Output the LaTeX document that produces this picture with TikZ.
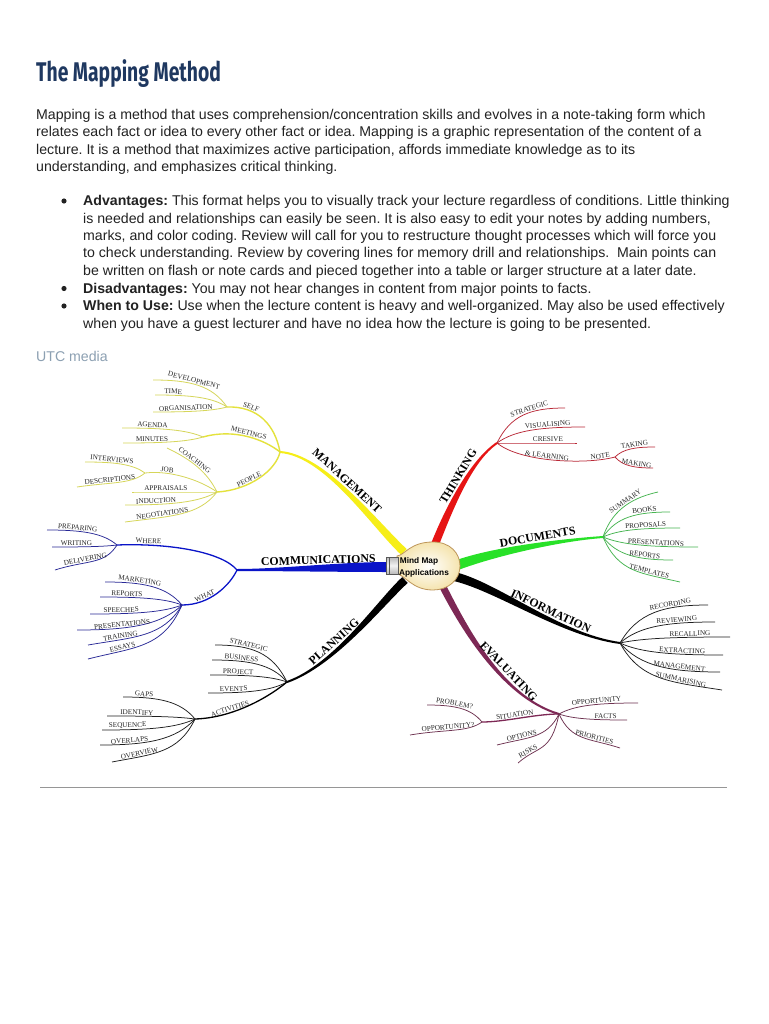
\documentclass[tikz,border=0pt]{standalone}
\usepackage{fontspec}
\setmainfont{Liberation Sans}
\newfontfamily\titlefont[FakeStretch=0.715]{Fira Sans}
\newfontfamily\mapfont{Liberation Serif}
\newfontfamily\bulbfont{Liberation Sans}
\usetikzlibrary{calc}
\frenchspacing
\definecolor{titleblue}{RGB}{31,56,96}
\definecolor{bodytext}{RGB}{34,34,34}
\definecolor{utcgray}{RGB}{140,160,178}
\definecolor{rulegray}{RGB}{150,150,150}
\definecolor{yellowmain}{RGB}{246,238,24}
\definecolor{yellowsub}{RGB}{228,226,60}
\definecolor{yellowleaf}{RGB}{214,214,90}
\definecolor{bluemain}{RGB}{10,20,200}
\definecolor{blueleaf}{RGB}{40,40,150}
\definecolor{redmain}{RGB}{230,20,20}
\definecolor{redleaf}{RGB}{185,40,55}
\definecolor{greenmain}{RGB}{40,225,40}
\definecolor{greenleaf}{RGB}{70,180,80}
\definecolor{maroonmain}{RGB}{125,40,85}
\definecolor{maroonleaf}{RGB}{110,50,80}
\definecolor{blackleaf}{RGB}{30,30,30}
\definecolor{bulbfill}{RGB}{245,228,175}
\definecolor{bulbedge}{RGB}{190,150,90}
% leaf: style, hub, dx, dy, pos, end slope, text
\newcommand\leafline[7]{%
  \pgfmathsetmacro\lfax{0.2*(#3)}%
  \pgfmathsetmacro\lfay{0.8*(#4)}%
  \pgfmathsetmacro\lfbx{-0.5*(#3)}%
  \draw[#1] (#2) .. controls +(\lfax,\lfay) and +(\lfbx,#6) .. ++(#3,#4) node[lab,pos=#5]{#7};}
% main branch: colour, start, c1, c2, end, half width start, half width end, pos, label
\newcommand\mainbranch[9]{%
  \fill[#1] ($(#2)!#6!90:(#3)$) .. controls ($(#3)!#6!-90:(#2)$) and ($(#4)!#7!90:(#5)$) .. ($(#5)!#7!-90:(#4)$)
     -- ($(#5)!#7!90:(#4)$) .. controls ($(#4)!#7!-90:(#5)$) and ($(#3)!#6!90:(#2)$) .. ($(#2)!#6!-90:(#3)$) -- cycle;
  \path (#2) .. controls (#3) and (#4) .. (#5) node[mainlab,pos=#8]{#9};}
\begin{document}
\begin{tikzpicture}[x=1pt,y=-1pt,
  body/.style={anchor=base west, inner sep=0, font=\fontsize{14.15}{17}\selectfont, text=bodytext},
  lab/.style={font=\mapfont\fontsize{7.2}{8}\selectfont, sloped, above, inner sep=0.8pt, text=black!85},
  mainlab/.style={font=\mapfont\bfseries\fontsize{11.8}{13}\selectfont, sloped, above=4pt, inner sep=0pt, text=black},
  lfy/.style={draw=yellowleaf, line width=0.8pt},
  lfb/.style={draw=blueleaf, line width=0.75pt},
  lfk/.style={draw=blackleaf, line width=0.75pt},
  lfr/.style={draw=redleaf, line width=0.75pt},
  lfg/.style={draw=greenleaf, line width=0.75pt},
  lfm/.style={draw=maroonleaf, line width=0.75pt},
  sby/.style={draw=yellowsub, line width=1.4pt},
  sbb/.style={draw=bluemain, line width=1.3pt},
  sbk/.style={draw=black, line width=1.3pt},
  sbm/.style={draw=maroonmain, line width=1.3pt},
  bullet/.style={circle, fill=bodytext, inner sep=0, minimum size=5.2pt}]
\useasboundingbox (0,0) rectangle (768,1024);
\fill[white] (0,0) rectangle (768,1024);

% ---------- text ----------
\node[anchor=base west, inner sep=0, font=\titlefont\bfseries\fontsize{27}{30}\selectfont, text=titleblue] (title) at (36,82) {The Mapping Method};

\node[body] (p1) at (36,119.5) {Mapping is a method that uses comprehension/concentration skills and evolves in a note-taking form which};
\node[body] (p2) at (36,137) {relates each fact or idea to every other fact or idea. Mapping is a graphic representation of the content of a};
\node[body] (p3) at (36,154.5) {lecture. It is a method that maximizes active participation, affords immediate knowledge as to its};
\node[body] (p4) at (36,172) {understanding, and emphasizes critical thinking.};

\node[bullet] (b1) at (64,201) {};
\node[bullet] (b2) at (64,288.5) {};
\node[bullet] (b3) at (64,306) {};
\node[body] (a1) at (83,205.5) {\textbf{Advantages:} This format helps you to visually track your lecture regardless of conditions. Little thinking};
\node[body] (a2) at (83,223) {is needed and relationships can easily be seen. It is also easy to edit your notes by adding numbers,};
\node[body] (a3) at (83,240.5) {marks, and color coding. Review will call for you to restructure thought processes which will force you};
\node[body] (a4) at (83,258) {to check understanding. Review by covering lines for memory drill and relationships.~ Main points can};
\node[body] (a5) at (83,275.5) {be written on flash or note cards and pieced together into a table or larger structure at a later date.};
\node[body] (d1) at (83,293) {\textbf{Disadvantages:} You may not hear changes in content from major points to facts.};
\node[body] (w1) at (83,310.5) {\textbf{When to Use:} Use when the lecture content is heavy and well-organized. May also be used effectively};
\node[body] (w2) at (83,328) {when you have a guest lecturer and have no idea how the lecture is going to be presented.};

\node[body, text=utcgray] (utc) at (36,361.5) {UTC media};

\coordinate (rl) at (40,787);
\coordinate (rr) at (727,787);
\draw[rulegray, line width=1pt] (rl) -- (rr);

% ---------- coordinates ----------
\coordinate (mA) at (404,552);
\coordinate (hMg) at (280,452);
\coordinate (hSelf) at (227,407);
\coordinate (hMeet) at (203,437);
\coordinate (hPeople) at (217,492);
\coordinate (hJob) at (145,473);
\coordinate (cA) at (388,567);
\coordinate (hComm) at (237,570);
\coordinate (hWhere) at (117,545);
\coordinate (hWhat) at (182,605);
\coordinate (pA) at (405,580);
\coordinate (hPlan) at (287,682);
\coordinate (hAct) at (195,719);
\coordinate (tA) at (432,552);
\coordinate (hThink) at (497,443);
\coordinate (hNote) at (615,457);
\coordinate (dA) at (452,567);
\coordinate (hDoc) at (603,537);
\coordinate (iA) at (452,576);
\coordinate (hInfo) at (620,643);
\coordinate (eA) at (442,585);
\coordinate (hEval) at (559,714);
\coordinate (hSit) at (482,722);

% ---------- MANAGEMENT ----------
\mainbranch{yellowmain}{mA}{375,525}{325,455}{hMg}{4pt}{1pt}{0.55}{MANAGEMENT}
\draw[sby] (hMg) .. controls (275,425) and (258,406) .. (hSelf) node[lab,pos=0.72]{SELF};
\draw[sby] (hMg) .. controls (265,440) and (235,428) .. (hMeet) node[lab,pos=0.5]{MEETINGS};
\draw[sby] (hMg) .. controls (276,470) and (250,490) .. (hPeople) node[lab,pos=0.62]{PEOPLE};
\leafline{lfy}{hSelf}{-74}{-27}{0.57}{0}{DEVELOPMENT}
\leafline{lfy}{hSelf}{-72}{-12}{0.82}{0}{TIME}
\leafline{lfy}{hSelf}{-74}{5}{0.66}{0}{ORGANISATION}
\leafline{lfy}{hMeet}{-81}{-9}{0.72}{0}{AGENDA}
\leafline{lfy}{hMeet}{-80}{6}{0.73}{0}{MINUTES}
\draw[lfy] (hPeople) .. controls +(-10,-20) and +(25,12) .. ++(-50,-44) node[lab,pos=0.6]{COACHING};
\draw[lfy] (hPeople) .. controls (200,480) and (170,470) .. (hJob) node[lab,pos=0.72]{JOB};
\leafline{lfy}{hJob}{-60}{-11}{0.66}{0}{INTERVIEWS}
\leafline{lfy}{hJob}{-68}{14}{0.62}{-5}{DESCRIPTIONS}
\leafline{lfy}{hPeople}{-85}{0}{0.7}{0}{APPRAISALS}
\leafline{lfy}{hPeople}{-92}{13}{0.75}{0}{INDUCTION}
\leafline{lfy}{hPeople}{-92}{30}{0.69}{-6}{NEGOTIATIONS}

% ---------- COMMUNICATIONS ----------
\mainbranch{bluemain}{cA}{340,567}{280,570}{hComm}{5pt}{1pt}{0.45}{COMMUNICATIONS}
\draw[sbb] (hComm) .. controls (222,552) and (170,543) .. (hWhere) node[lab,pos=0.8]{WHERE};
\draw[sbb] (hComm) .. controls (230,585) and (210,605) .. (hWhat) node[lab,pos=0.68]{WHAT};
\leafline{lfb}{hWhere}{-70}{-15}{0.67}{0}{PREPARING}
\leafline{lfb}{hWhere}{-65}{2}{0.72}{0}{WRITING}
\leafline{lfb}{hWhere}{-62}{25}{0.61}{-10}{DELIVERING}
\leafline{lfb}{hWhat}{-77}{-23}{0.66}{0}{MARKETING}
\leafline{lfb}{hWhat}{-82}{-8}{0.76}{0}{REPORTS}
\leafline{lfb}{hWhat}{-92}{9}{0.75}{0}{SPEECHES}
\leafline{lfb}{hWhat}{-105}{25}{0.67}{0}{PRESENTATIONS}
\leafline{lfb}{hWhat}{-94}{40}{0.74}{-8}{TRAINING}
\leafline{lfb}{hWhat}{-94}{54}{0.72}{-12}{ESSAYS}

% ---------- PLANNING ----------
\mainbranch{black}{pA}{380,603}{335,665}{hPlan}{4pt}{1pt}{0.62}{PLANNING}
\leafline{lfk}{hPlan}{-72}{-37}{0.65}{0}{STRATEGIC}
\leafline{lfk}{hPlan}{-75}{-22}{0.71}{0}{BUSINESS}
\leafline{lfk}{hPlan}{-77}{-7}{0.73}{0}{PROJECT}
\leafline{lfk}{hPlan}{-79}{11}{0.76}{0}{EVENTS}
\draw[sbk] (hPlan) .. controls (265,700) and (230,718) .. (hAct) node[lab,pos=0.65]{ACTIVITIES};
\leafline{lfk}{hAct}{-72}{-22}{0.79}{0}{GAPS}
\leafline{lfk}{hAct}{-88}{-3}{0.75}{0}{IDENTIFY}
\leafline{lfk}{hAct}{-93}{11}{0.8}{0}{SEQUENCE}
\leafline{lfk}{hAct}{-95}{26}{0.77}{0}{OVERLAPS}
\leafline{lfk}{hAct}{-83}{43}{0.75}{-8}{OVERVIEW}

% ---------- THINKING ----------
\mainbranch{redmain}{tA}{450,505}{472,460}{hThink}{4pt}{1pt}{0.55}{THINKING}
\leafline{lfr}{hThink}{68}{-35}{0.6}{0}{STRATEGIC}
\leafline{lfr}{hThink}{88}{-16}{0.68}{0}{VISUALISING}
\leafline{lfr}{hThink}{80}{0}{0.73}{0}{CRESIVE}
\draw[lfr] (hThink) .. controls (520,462) and (585,465) .. (hNote) node[lab,pos=0.45]{\& LEARNING} node[lab,pos=0.86]{NOTE};
\leafline{lfr}{hNote}{40}{-10}{0.61}{0}{TAKING}
\leafline{lfr}{hNote}{38}{11}{0.66}{0}{MAKING}

% ---------- DOCUMENTS ----------
\mainbranch{greenmain}{dA}{490,552}{560,540}{hDoc}{5pt}{1pt}{0.58}{DOCUMENTS}
\draw[lfg] (hDoc) .. controls +(10,-30) and +(-22,5) .. ++(55,-45) node[lab,pos=0.52]{SUMMARY};
\leafline{lfg}{hDoc}{67}{-25}{0.72}{0}{BOOKS}
\leafline{lfg}{hDoc}{77}{-9}{0.66}{0}{PROPOSALS}
\leafline{lfg}{hDoc}{95}{10}{0.66}{0}{PRESENTATIONS}
\leafline{lfg}{hDoc}{70}{23}{0.69}{0}{REPORTS}
\leafline{lfg}{hDoc}{77}{45}{0.69}{-9}{TEMPLATES}

% ---------- INFORMATION ----------
\mainbranch{black}{iA}{495,585}{560,635}{hInfo}{4.5pt}{1pt}{0.6}{INFORMATION}
\leafline{lfk}{hInfo}{88}{-38}{0.68}{0}{RECORDING}
\leafline{lfk}{hInfo}{95}{-21}{0.7}{0}{REVIEWING}
\leafline{lfk}{hInfo}{110}{-6}{0.73}{0}{RECALLING}
\leafline{lfk}{hInfo}{103}{12}{0.7}{0}{EXTRACTING}
\leafline{lfk}{hInfo}{100}{29}{0.69}{0}{MANAGEMENT}
\leafline{lfk}{hInfo}{102}{47}{0.69}{-8}{SUMMARISING}

% ---------- EVALUATING ----------
\mainbranch{maroonmain}{eA}{460,620}{500,697}{hEval}{3.5pt}{1pt}{0.64}{EVALUATING}
\draw[sbm] (hEval) .. controls (535,714) and (505,722) .. (hSit) node[lab,pos=0.56]{SITUATION};
\leafline{lfm}{hSit}{-55}{-17}{0.62}{0}{PROBLEM?}
\leafline{lfm}{hSit}{-72}{13}{0.58}{-6}{OPPORTUNITY?}
\leafline{lfm}{hEval}{79}{-11}{0.59}{0}{OPPORTUNITY}
\leafline{lfm}{hEval}{68}{6}{0.77}{0}{FACTS}
\leafline{lfm}{hEval}{61}{34}{0.67}{-10}{PRIORITIES}
\leafline{lfm}{hEval}{-62}{31}{0.69}{-8}{OPTIONS}
\leafline{lfm}{hEval}{-41}{49}{0.79}{-18}{RISKS}

% ---------- bulb ----------
\draw[bulbedge, line width=0.8pt, inner color=white, outer color=bulbfill]
  (397,556) .. controls (405,555) and (410,542) .. (433,542)
  .. controls (450,542) and (460,553) .. (460,566)
  .. controls (460,580) and (448,590) .. (433,590)
  .. controls (412,590) and (405,575) .. (397,574) -- cycle;
\draw[gray!70!black, line width=0.6pt, top color=gray!55, bottom color=gray!55, middle color=gray!10]
  (386,557) rectangle (398,574);
\draw[gray!70!black, line width=0.5pt] (389,557) -- (389,574);
\node[inner sep=0, font=\bulbfont\bfseries\fontsize{8.3}{9}\selectfont] (mm) at (419,561) {Mind Map};
\node[inner sep=0, font=\bulbfont\bfseries\fontsize{8.3}{9}\selectfont] (ap) at (424,573.5) {Applications};
\end{tikzpicture}
\end{document}
